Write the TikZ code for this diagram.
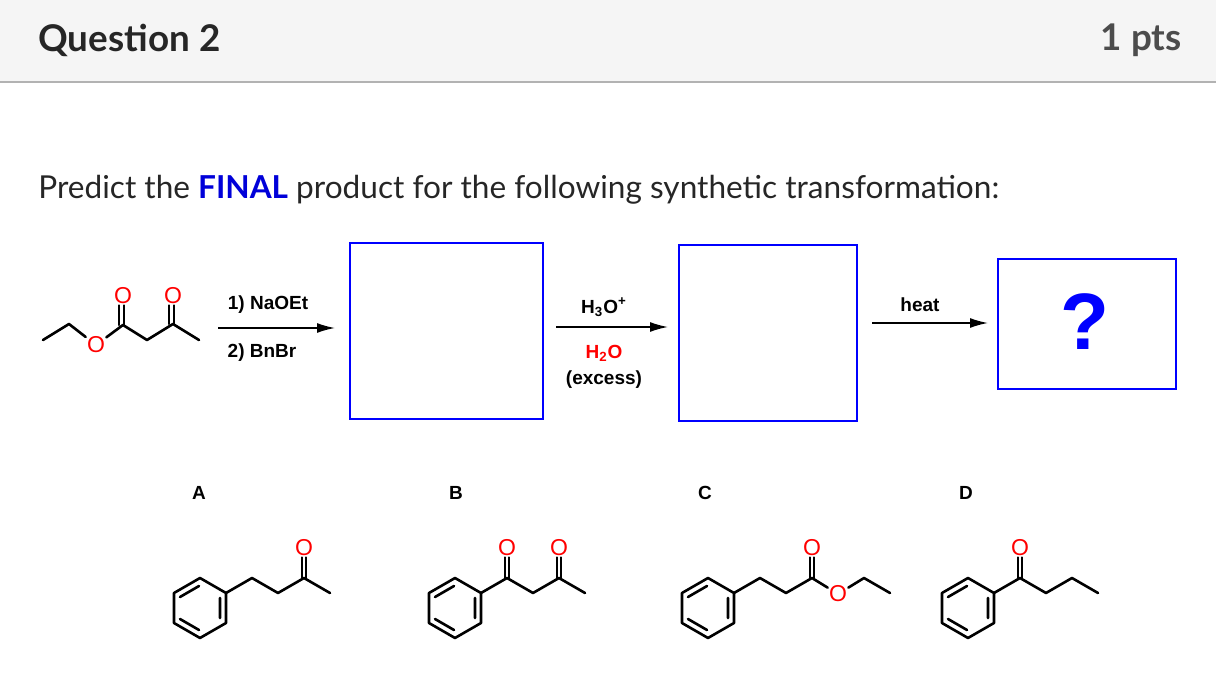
\documentclass[tikz,border=0pt]{standalone}
\usepackage{fontspec}
\usetikzlibrary{arrows.meta}
\setmainfont{Lato}
\newfontfamily\arial{Liberation Sans}
\begin{document}
\begin{tikzpicture}[x=0.5pt,y=-0.5pt,
  bond/.style={line width=1.3pt,line cap=round,line join=round},
  oxy/.style={text=red,font=\arial\fontsize{11.5}{12}\selectfont,inner sep=0.5pt,fill=white},
  lbl/.style={font=\arial\bfseries\fontsize{9.5}{11}\selectfont,inner sep=1pt},
  box/.style={draw=blue,line width=0.7pt},
  arr/.style={line width=0.8pt,-{Latex[length=9pt,width=5pt]}},
  benz/.pic={
    \draw[bond] (0,-30)--(26,-15)--(26,15)--(0,30)--(-26,15)--(-26,-15)--cycle;
    \draw[bond] (-20,-11)--(-1,-22) (20,-10)--(20,10) (-20,11)--(-1,22);
  }]
\useasboundingbox (0,0) rectangle (1216,700);
\fill[gray!8] (0,0) rectangle (1216,82);
\draw[gray!60,line width=1pt] (0,82)--(1216,82);
\node[anchor=west,inner sep=0,font=\bfseries\fontsize{18.4}{21}\selectfont,text=black!85] (q) at (38,40) {Question 2};
\node[anchor=east,inner sep=0,font=\bfseries\fontsize{18.4}{21}\selectfont,text=black!70] (p) at (1182,40) {1 pts};
\node[anchor=west,inner sep=0,font=\fontsize{15.8}{18}\selectfont,text=black!85] (t) at (38,190) {Predict the \textcolor{blue!85!black}{\textbf{FINAL}} product for the following synthetic transformation:};

% reactant
\node[oxy] (o1) at (96,345) {O};
\node[oxy] (o2) at (123,296) {O};
\node[oxy] (o3) at (173,296) {O};
\coordinate (r1) at (43,340); \coordinate (r2) at (69,324);
\coordinate (r4) at (123,325); \coordinate (r5) at (147,340);
\coordinate (r6) at (173,324); \coordinate (r7) at (199,340);
\draw[bond] (r1)--(r2)--(o1)--(r4)--(r5)--(r6)--(r7);
\draw[bond] ([xshift=-2pt]r4)--([xshift=-2pt]o2.south) ([xshift=0.5pt]r4)--([xshift=0.5pt]o2.south);
\draw[bond] ([xshift=-2pt]r6)--([xshift=-2pt]o3.south) ([xshift=0.5pt]r6)--([xshift=0.5pt]o3.south);

% arrows and boxes
\coordinate (a1s) at (218,328); \coordinate (a1e) at (335,328);
\draw[arr] (a1s)--(a1e);
\node[lbl] (n1) at (268,305) {1) NaOEt};
\node[lbl] (n2) at (262,353) {2) BnBr};
\draw[box] (350,243) rectangle (543,419);
\coordinate (a2s) at (556,327); \coordinate (a2e) at (668,327);
\draw[arr] (a2s)--(a2e);
\node[lbl] (h1) at (604,307) {H\textsubscript{3}O\textsuperscript{+}};
\node[lbl,text=red] (h2) at (604,353) {H\textsubscript{2}O};
\node[lbl] (h3) at (604,380) {(excess)};
\draw[box] (679,245) rectangle (857,421);
\coordinate (a3s) at (872,323); \coordinate (a3e) at (988,323);
\draw[arr] (a3s)--(a3e);
\node[lbl] (heat) at (920,305) {heat};
\draw[box] (998,259) rectangle (1176,389);
\node[text=blue,font=\arial\bfseries\fontsize{40}{44}\selectfont] (qm) at (1085,322) {?};

% letters
\node[lbl] (la) at (199,493) {A};
\node[lbl] (lb) at (456,493) {B};
\node[lbl] (lc) at (705,493) {C};
\node[lbl] (ld) at (966,493) {D};

% A
\pic at (200,608) {benz};
\node[oxy] (oa) at (304,548) {O};
\draw[bond] (226,593)--(252,578)--(278,593)--(304,578)--(330,593);
\draw[bond] (302,578)--([xshift=-1pt]oa.south) (306,578)--([xshift=1pt]oa.south);
% B
\pic at (455,608) {benz};
\node[oxy] (ob1) at (507,548) {O};
\node[oxy] (ob2) at (559,548) {O};
\draw[bond] (481,593)--(507,578)--(533,593)--(559,578)--(585,593);
\draw[bond] (505,578)--([xshift=-1pt]ob1.south) (509,578)--([xshift=1pt]ob1.south);
\draw[bond] (557,578)--([xshift=-1pt]ob2.south) (561,578)--([xshift=1pt]ob2.south);
% C
\pic at (708,608) {benz};
\node[oxy] (oc1) at (812,548) {O};
\node[oxy] (oc2) at (838,594) {O};
\draw[bond] (734,593)--(760,578)--(786,593)--(812,578)--(oc2)--(864,578)--(890,593);
\draw[bond] (810,578)--([xshift=-1pt]oc1.south) (814,578)--([xshift=1pt]oc1.south);
% D
\pic at (968,608) {benz};
\node[oxy] (od) at (1020,548) {O};
\draw[bond] (994,593)--(1020,578)--(1046,593)--(1072,578)--(1098,593);
\draw[bond] (1018,578)--([xshift=-1pt]od.south) (1022,578)--([xshift=1pt]od.south);
\end{tikzpicture}
\end{document}
